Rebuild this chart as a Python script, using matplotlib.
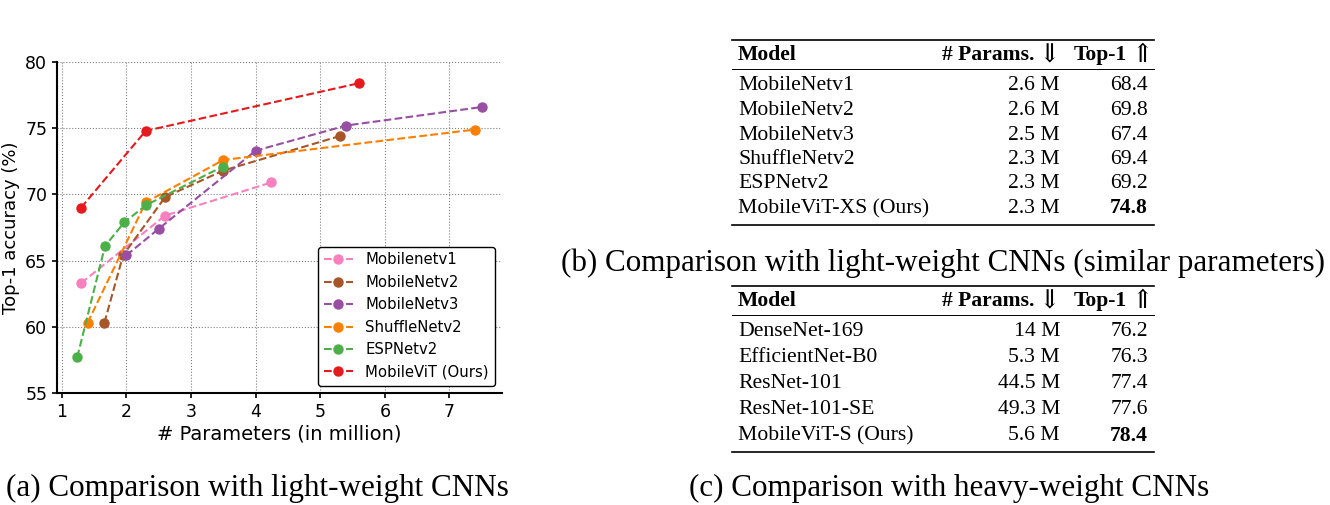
import matplotlib
matplotlib.use("Agg")
import matplotlib.pyplot as plt

# (a) accuracy vs. parameters, one list per model family
mnv1_params = [1.3, 2.6, 4.24]
mnv1_acc = [63.3, 68.4, 70.9]
mnv2_params = [1.66, 1.95, 2.6, 3.5, 5.3]
mnv2_acc = [60.3, 65.4, 69.8, 71.8, 74.4]
mnv3_params = [2.0, 2.5, 4.0, 5.4, 7.5]
mnv3_acc = [65.4, 67.4, 73.3, 75.2, 76.6]
shuffle_params = [1.4, 2.3, 3.5, 7.4]
shuffle_acc = [60.3, 69.4, 72.6, 74.9]
esp_params = [1.24, 1.67, 1.97, 2.31, 3.49]
esp_acc = [57.7, 66.1, 67.9, 69.2, 72.1]
vit_params = [1.3, 2.3, 5.6]
vit_acc = [69.0, 74.8, 78.4]

series = [
    ("Mobilenetv1", mnv1_params, mnv1_acc, "#f781bf"),
    ("MobileNetv2", mnv2_params, mnv2_acc, "#a65628"),
    ("MobileNetv3", mnv3_params, mnv3_acc, "#984ea3"),
    ("ShuffleNetv2", shuffle_params, shuffle_acc, "#ff7f00"),
    ("ESPNetv2", esp_params, esp_acc, "#4daf4a"),
    ("MobileViT (Ours)", vit_params, vit_acc, "#e41a1c"),
]

# (b) light-weight table
light_models = ["MobileNetv1", "MobileNetv2", "MobileNetv3", "ShuffleNetv2",
                "ESPNetv2", "MobileViT-XS (Ours)"]
light_params = ["2.6 M", "2.6 M", "2.5 M", "2.3 M", "2.3 M", "2.3 M"]
light_top1 = ["68.4", "69.8", "67.4", "69.4", "69.2", "74.8"]

# (c) heavy-weight table
heavy_models = ["DenseNet-169", "EfficientNet-B0", "ResNet-101",
                "ResNet-101-SE", "MobileViT-S (Ours)"]
heavy_params = ["14 M", "5.3 M", "44.5 M", "49.3 M", "5.6 M"]
heavy_top1 = ["76.2", "76.3", "77.4", "77.6", "78.4"]

W, H = 1330, 505
fig = plt.figure(figsize=(W / 100, H / 100), dpi=100)

ax = fig.add_axes([57 / W, 1 - 393 / H, (502 - 57) / W, (393 - 62) / H])
for name, xs, ys, col in series:
    ax.plot(xs, ys, "--o", color=col, label=name, lw=1.5, ms=6.5)
ax.set_ylim(55, 80)
ax.set_xticks(range(1, 8))
ax.set_yticks([55, 60, 65, 70, 75, 80])
ax.grid(True, linestyle=":", color="gray", lw=0.8)
ax.spines["top"].set_visible(False)
ax.spines["right"].set_visible(False)
ax.spines["left"].set_linewidth(1.5)
ax.spines["bottom"].set_linewidth(1.5)
ax.tick_params(labelsize=12.5, width=1.2)
ax.set_xlabel("# Parameters (in million)", fontsize=14, labelpad=3)
ax.set_ylabel("Top-1 accuracy (%)", fontsize=13)
ax.legend(loc="lower right", fontsize=10.7, edgecolor="black", framealpha=1)

serif = ["Liberation Serif", "DejaVu Serif"]
arrow_font = ["DejaVu Serif", "DejaVu Sans"]
fs = 15.6


def px(x, y):
    return x / W, 1 - y / H


def hline(y, lw):
    fig.add_artist(plt.Line2D([732 / W, 1154 / W], [1 - y / H] * 2, color="black", lw=lw))


def draw_table(top, models, params, top1, step):
    hline(top, 1.2)
    hy = top + 15
    fig.text(*px(738, hy), "Model", family=serif, weight="bold", fontsize=fs, va="center")
    fig.text(*px(1034, hy), "# Params.", family=serif, weight="bold", fontsize=fs,
             va="center", ha="right")
    fig.text(*px(1049, hy), "\u21d3", family=arrow_font, fontsize=fs + 3,
             va="center", ha="center")
    fig.text(*px(1127, hy), "Top-1", family=serif, weight="bold", fontsize=fs,
             va="center", ha="right")
    fig.text(*px(1142, hy), "\u21d1", family=arrow_font, fontsize=fs + 3,
             va="center", ha="center")
    rule = top + 29
    hline(rule, 0.7)
    y = rule + 17
    for i, (m, p, t) in enumerate(zip(models, params, top1)):
        last = i == len(models) - 1
        fig.text(*px(738, y), m, family=serif, fontsize=fs, va="center")
        fig.text(*px(1060, y), p, family=serif, fontsize=fs, va="center", ha="right")
        fig.text(*px(1148, y), t, family=serif, fontsize=fs, va="center", ha="right",
                 weight="bold" if last else "normal")
        if not last:
            y += step
    hline(y + 16, 1.2)


draw_table(40, light_models, light_params, light_top1, 24.5)
draw_table(286, heavy_models, heavy_params, heavy_top1, 26)

cap = 22.4
fig.text(*px(257, 496), "(a) Comparison with light-weight CNNs", family=serif,
         fontsize=cap, ha="center", va="baseline")
fig.text(*px(943, 271), "(b) Comparison with light-weight CNNs (similar parameters)",
         family=serif, fontsize=cap, ha="center", va="baseline")
fig.text(*px(949, 496), "(c) Comparison with heavy-weight CNNs", family=serif,
         fontsize=cap, ha="center", va="baseline")

fig.savefig("out.png", dpi=100)
